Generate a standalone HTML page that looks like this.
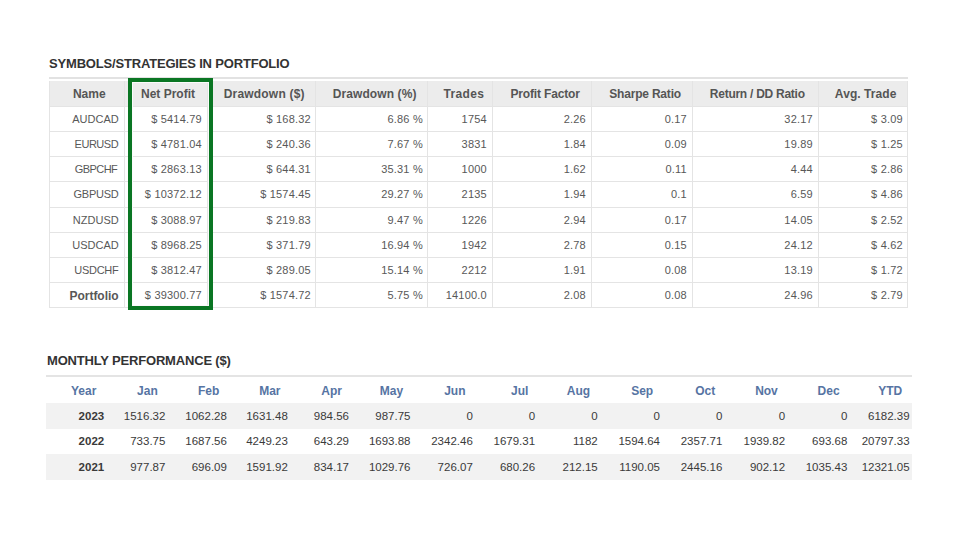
<!DOCTYPE html>
<html><head><meta charset="utf-8"><style>
html,body{margin:0;padding:0;background:#fff;}
body{width:960px;height:540px;position:relative;overflow:hidden;font-family:"Liberation Sans",sans-serif;}
.a{position:absolute;}
.t{position:absolute;white-space:nowrap;line-height:1;}
.h1{font-weight:bold;color:#333;font-size:13px;letter-spacing:-0.18px;}
.th{font-weight:bold;color:#555;font-size:12px;}
.td{color:#585858;font-size:11px;}
.bh{font-weight:bold;color:#5674a3;font-size:12px;}
.bd{color:#3a3a3a;font-size:11.5px;}
</style></head><body>

<div class="t h1" style="left:49px;top:57px;">SYMBOLS/STRATEGIES IN PORTFOLIO</div>
<div class="t h1" style="left:47px;top:354px;">MONTHLY PERFORMANCE ($)</div>
<div class="a" style="left:49px;top:77px;width:859px;height:2px;background:#e2e2e2"></div>
<div class="a" style="left:49px;top:81px;width:858px;height:25px;background:#ececec"></div>
<div class="a" style="left:49px;top:106.00px;width:859px;height:1px;background:#e4e4e4"></div>
<div class="a" style="left:49px;top:131.12px;width:859px;height:1px;background:#e4e4e4"></div>
<div class="a" style="left:49px;top:156.25px;width:859px;height:1px;background:#e4e4e4"></div>
<div class="a" style="left:49px;top:181.38px;width:859px;height:1px;background:#e4e4e4"></div>
<div class="a" style="left:49px;top:206.50px;width:859px;height:1px;background:#e4e4e4"></div>
<div class="a" style="left:49px;top:231.62px;width:859px;height:1px;background:#e4e4e4"></div>
<div class="a" style="left:49px;top:256.75px;width:859px;height:1px;background:#e4e4e4"></div>
<div class="a" style="left:49px;top:281.88px;width:859px;height:1px;background:#e4e4e4"></div>
<div class="a" style="left:49px;top:307.00px;width:859px;height:1px;background:#e4e4e4"></div>
<div class="a" style="left:49px;top:81px;width:1px;height:227.00px;background:#e4e4e4"></div>
<div class="a" style="left:124px;top:81px;width:1px;height:227.00px;background:#e4e4e4"></div>
<div class="a" style="left:207px;top:81px;width:1px;height:227.00px;background:#e4e4e4"></div>
<div class="a" style="left:315px;top:81px;width:1px;height:227.00px;background:#e4e4e4"></div>
<div class="a" style="left:427px;top:81px;width:1px;height:227.00px;background:#e4e4e4"></div>
<div class="a" style="left:492px;top:81px;width:1px;height:227.00px;background:#e4e4e4"></div>
<div class="a" style="left:591px;top:81px;width:1px;height:227.00px;background:#e4e4e4"></div>
<div class="a" style="left:692px;top:81px;width:1px;height:227.00px;background:#e4e4e4"></div>
<div class="a" style="left:818px;top:81px;width:1px;height:227.00px;background:#e4e4e4"></div>
<div class="a" style="left:907px;top:81px;width:1px;height:227.00px;background:#e4e4e4"></div>
<div class="t th" style="left:29.3px;width:120px;text-align:center;top:88px;letter-spacing:0px">Name</div>
<div class="t th" style="left:108.0px;width:120px;text-align:center;top:88px;letter-spacing:0px">Net Profit</div>
<div class="t th" style="left:204.2px;width:120px;text-align:center;top:88px;letter-spacing:0.2px">Drawdown ($)</div>
<div class="t th" style="left:314.6px;width:120px;text-align:center;top:88px;letter-spacing:0.1px">Drawdown (%)</div>
<div class="t th" style="left:403.8px;width:120px;text-align:center;top:88px;letter-spacing:0.35px">Trades</div>
<div class="t th" style="left:485.1px;width:120px;text-align:center;top:88px;letter-spacing:-0.16px">Profit Factor</div>
<div class="t th" style="left:585.1px;width:120px;text-align:center;top:88px;letter-spacing:-0.2px">Sharpe Ratio</div>
<div class="t th" style="left:697.3px;width:120px;text-align:center;top:88px;letter-spacing:-0.26px">Return / DD Ratio</div>
<div class="t th" style="left:805.7px;width:120px;text-align:center;top:88px;letter-spacing:0.08px">Avg. Trade</div>
<div class="t td" style="left:-31.30px;width:150px;text-align:right;top:114.0px;">AUDCAD</div>
<div class="t td" style="left:51.90px;width:150px;text-align:right;top:114.0px;letter-spacing:0.2px;">$ 5414.79</div>
<div class="t td" style="left:160.90px;width:150px;text-align:right;top:114.0px;letter-spacing:0.2px;">$ 168.32</div>
<div class="t td" style="left:272.90px;width:150px;text-align:right;top:114.0px;letter-spacing:0.2px;">6.86 %</div>
<div class="t td" style="left:336.90px;width:150px;text-align:right;top:114.0px;letter-spacing:0.2px;">1754</div>
<div class="t td" style="left:435.90px;width:150px;text-align:right;top:114.0px;letter-spacing:0.2px;">2.26</div>
<div class="t td" style="left:536.90px;width:150px;text-align:right;top:114.0px;letter-spacing:0.2px;">0.17</div>
<div class="t td" style="left:662.90px;width:150px;text-align:right;top:114.0px;letter-spacing:0.2px;">32.17</div>
<div class="t td" style="left:752.90px;width:150px;text-align:right;top:114.0px;letter-spacing:0.2px;">$ 3.09</div>
<div class="t td" style="left:-31.75px;width:150px;text-align:right;top:139.1px;letter-spacing:-0.45px;">EURUSD</div>
<div class="t td" style="left:51.90px;width:150px;text-align:right;top:139.1px;letter-spacing:0.2px;">$ 4781.04</div>
<div class="t td" style="left:160.90px;width:150px;text-align:right;top:139.1px;letter-spacing:0.2px;">$ 240.36</div>
<div class="t td" style="left:272.90px;width:150px;text-align:right;top:139.1px;letter-spacing:0.2px;">7.67 %</div>
<div class="t td" style="left:336.90px;width:150px;text-align:right;top:139.1px;letter-spacing:0.2px;">3831</div>
<div class="t td" style="left:435.90px;width:150px;text-align:right;top:139.1px;letter-spacing:0.2px;">1.84</div>
<div class="t td" style="left:536.90px;width:150px;text-align:right;top:139.1px;letter-spacing:0.2px;">0.09</div>
<div class="t td" style="left:662.90px;width:150px;text-align:right;top:139.1px;letter-spacing:0.2px;">19.89</div>
<div class="t td" style="left:752.90px;width:150px;text-align:right;top:139.1px;letter-spacing:0.2px;">$ 1.25</div>
<div class="t td" style="left:-32.90px;width:150px;text-align:right;top:164.2px;letter-spacing:-0.6px;">GBPCHF</div>
<div class="t td" style="left:51.90px;width:150px;text-align:right;top:164.2px;letter-spacing:0.2px;">$ 2863.13</div>
<div class="t td" style="left:160.90px;width:150px;text-align:right;top:164.2px;letter-spacing:0.2px;">$ 644.31</div>
<div class="t td" style="left:272.90px;width:150px;text-align:right;top:164.2px;letter-spacing:0.2px;">35.31 %</div>
<div class="t td" style="left:336.90px;width:150px;text-align:right;top:164.2px;letter-spacing:0.2px;">1000</div>
<div class="t td" style="left:435.90px;width:150px;text-align:right;top:164.2px;letter-spacing:0.2px;">1.62</div>
<div class="t td" style="left:536.90px;width:150px;text-align:right;top:164.2px;letter-spacing:0.2px;">0.11</div>
<div class="t td" style="left:662.90px;width:150px;text-align:right;top:164.2px;letter-spacing:0.2px;">4.44</div>
<div class="t td" style="left:752.90px;width:150px;text-align:right;top:164.2px;letter-spacing:0.2px;">$ 2.86</div>
<div class="t td" style="left:-31.55px;width:150px;text-align:right;top:189.4px;letter-spacing:-0.25px;">GBPUSD</div>
<div class="t td" style="left:51.90px;width:150px;text-align:right;top:189.4px;letter-spacing:0.2px;">$ 10372.12</div>
<div class="t td" style="left:160.90px;width:150px;text-align:right;top:189.4px;letter-spacing:0.2px;">$ 1574.45</div>
<div class="t td" style="left:272.90px;width:150px;text-align:right;top:189.4px;letter-spacing:0.2px;">29.27 %</div>
<div class="t td" style="left:336.90px;width:150px;text-align:right;top:189.4px;letter-spacing:0.2px;">2135</div>
<div class="t td" style="left:435.90px;width:150px;text-align:right;top:189.4px;letter-spacing:0.2px;">1.94</div>
<div class="t td" style="left:536.90px;width:150px;text-align:right;top:189.4px;letter-spacing:0.2px;">0.1</div>
<div class="t td" style="left:662.90px;width:150px;text-align:right;top:189.4px;letter-spacing:0.2px;">6.59</div>
<div class="t td" style="left:752.90px;width:150px;text-align:right;top:189.4px;letter-spacing:0.2px;">$ 4.86</div>
<div class="t td" style="left:-31.30px;width:150px;text-align:right;top:214.5px;">NZDUSD</div>
<div class="t td" style="left:51.90px;width:150px;text-align:right;top:214.5px;letter-spacing:0.2px;">$ 3088.97</div>
<div class="t td" style="left:160.90px;width:150px;text-align:right;top:214.5px;letter-spacing:0.2px;">$ 219.83</div>
<div class="t td" style="left:272.90px;width:150px;text-align:right;top:214.5px;letter-spacing:0.2px;">9.47 %</div>
<div class="t td" style="left:336.90px;width:150px;text-align:right;top:214.5px;letter-spacing:0.2px;">1226</div>
<div class="t td" style="left:435.90px;width:150px;text-align:right;top:214.5px;letter-spacing:0.2px;">2.94</div>
<div class="t td" style="left:536.90px;width:150px;text-align:right;top:214.5px;letter-spacing:0.2px;">0.17</div>
<div class="t td" style="left:662.90px;width:150px;text-align:right;top:214.5px;letter-spacing:0.2px;">14.05</div>
<div class="t td" style="left:752.90px;width:150px;text-align:right;top:214.5px;letter-spacing:0.2px;">$ 2.52</div>
<div class="t td" style="left:-31.30px;width:150px;text-align:right;top:239.6px;">USDCAD</div>
<div class="t td" style="left:51.90px;width:150px;text-align:right;top:239.6px;letter-spacing:0.2px;">$ 8968.25</div>
<div class="t td" style="left:160.90px;width:150px;text-align:right;top:239.6px;letter-spacing:0.2px;">$ 371.79</div>
<div class="t td" style="left:272.90px;width:150px;text-align:right;top:239.6px;letter-spacing:0.2px;">16.94 %</div>
<div class="t td" style="left:336.90px;width:150px;text-align:right;top:239.6px;letter-spacing:0.2px;">1942</div>
<div class="t td" style="left:435.90px;width:150px;text-align:right;top:239.6px;letter-spacing:0.2px;">2.78</div>
<div class="t td" style="left:536.90px;width:150px;text-align:right;top:239.6px;letter-spacing:0.2px;">0.15</div>
<div class="t td" style="left:662.90px;width:150px;text-align:right;top:239.6px;letter-spacing:0.2px;">24.12</div>
<div class="t td" style="left:752.90px;width:150px;text-align:right;top:239.6px;letter-spacing:0.2px;">$ 4.62</div>
<div class="t td" style="left:-31.60px;width:150px;text-align:right;top:264.8px;letter-spacing:-0.3px;">USDCHF</div>
<div class="t td" style="left:51.90px;width:150px;text-align:right;top:264.8px;letter-spacing:0.2px;">$ 3812.47</div>
<div class="t td" style="left:160.90px;width:150px;text-align:right;top:264.8px;letter-spacing:0.2px;">$ 289.05</div>
<div class="t td" style="left:272.90px;width:150px;text-align:right;top:264.8px;letter-spacing:0.2px;">15.14 %</div>
<div class="t td" style="left:336.90px;width:150px;text-align:right;top:264.8px;letter-spacing:0.2px;">2212</div>
<div class="t td" style="left:435.90px;width:150px;text-align:right;top:264.8px;letter-spacing:0.2px;">1.91</div>
<div class="t td" style="left:536.90px;width:150px;text-align:right;top:264.8px;letter-spacing:0.2px;">0.08</div>
<div class="t td" style="left:662.90px;width:150px;text-align:right;top:264.8px;letter-spacing:0.2px;">13.19</div>
<div class="t td" style="left:752.90px;width:150px;text-align:right;top:264.8px;letter-spacing:0.2px;">$ 1.72</div>
<div class="t td" style="left:-31.30px;width:150px;text-align:right;top:289.9px;font-weight:bold;font-size:12px;">Portfolio</div>
<div class="t td" style="left:51.90px;width:150px;text-align:right;top:289.9px;letter-spacing:0.2px;">$ 39300.77</div>
<div class="t td" style="left:160.90px;width:150px;text-align:right;top:289.9px;letter-spacing:0.2px;">$ 1574.72</div>
<div class="t td" style="left:272.90px;width:150px;text-align:right;top:289.9px;letter-spacing:0.2px;">5.75 %</div>
<div class="t td" style="left:336.90px;width:150px;text-align:right;top:289.9px;letter-spacing:0.2px;">14100.0</div>
<div class="t td" style="left:435.90px;width:150px;text-align:right;top:289.9px;letter-spacing:0.2px;">2.08</div>
<div class="t td" style="left:536.90px;width:150px;text-align:right;top:289.9px;letter-spacing:0.2px;">0.08</div>
<div class="t td" style="left:662.90px;width:150px;text-align:right;top:289.9px;letter-spacing:0.2px;">24.96</div>
<div class="t td" style="left:752.90px;width:150px;text-align:right;top:289.9px;letter-spacing:0.2px;">$ 2.79</div>
<div class="a" style="left:128px;top:78px;width:77px;height:224px;border:4px solid #0a7623;box-shadow:inset 0 0 0 1px #fbfbfb;"></div>
<div class="a" style="left:46px;top:375px;width:866px;height:2px;background:#e4e4e4"></div>
<div class="a" style="left:46px;top:403px;width:866px;height:26px;background:#f2f2f2"></div>
<div class="a" style="left:46px;top:453.5px;width:866px;height:26.5px;background:#f2f2f2"></div>
<div class="t bh" style="left:-3.7px;width:100px;text-align:right;top:385px;">Year</div>
<div class="t bh" style="left:57.8px;width:100px;text-align:right;top:385px;">Jan</div>
<div class="t bh" style="left:119.3px;width:100px;text-align:right;top:385px;">Feb</div>
<div class="t bh" style="left:180.5px;width:100px;text-align:right;top:385px;">Mar</div>
<div class="t bh" style="left:242.0px;width:100px;text-align:right;top:385px;">Apr</div>
<div class="t bh" style="left:303.2px;width:100px;text-align:right;top:385px;">May</div>
<div class="t bh" style="left:365.5px;width:100px;text-align:right;top:385px;">Jun</div>
<div class="t bh" style="left:428.4px;width:100px;text-align:right;top:385px;">Jul</div>
<div class="t bh" style="left:490.1px;width:100px;text-align:right;top:385px;">Aug</div>
<div class="t bh" style="left:553.2px;width:100px;text-align:right;top:385px;">Sep</div>
<div class="t bh" style="left:615.2px;width:100px;text-align:right;top:385px;">Oct</div>
<div class="t bh" style="left:677.8px;width:100px;text-align:right;top:385px;">Nov</div>
<div class="t bh" style="left:739.6px;width:100px;text-align:right;top:385px;">Dec</div>
<div class="t bh" style="left:802.2px;width:100px;text-align:right;top:385px;">YTD</div>
<div class="t bd" style="left:4.2px;width:100px;text-align:right;top:410.5px;font-weight:bold;">2023</div>
<div class="t bd" style="left:65.4px;width:100px;text-align:right;top:410.5px;">1516.32</div>
<div class="t bd" style="left:126.9px;width:100px;text-align:right;top:410.5px;">1062.28</div>
<div class="t bd" style="left:187.8px;width:100px;text-align:right;top:410.5px;">1631.48</div>
<div class="t bd" style="left:249.0px;width:100px;text-align:right;top:410.5px;">984.56</div>
<div class="t bd" style="left:310.5px;width:100px;text-align:right;top:410.5px;">987.75</div>
<div class="t bd" style="left:372.8px;width:100px;text-align:right;top:410.5px;">0</div>
<div class="t bd" style="left:435.1px;width:100px;text-align:right;top:410.5px;">0</div>
<div class="t bd" style="left:497.7px;width:100px;text-align:right;top:410.5px;">0</div>
<div class="t bd" style="left:560.0px;width:100px;text-align:right;top:410.5px;">0</div>
<div class="t bd" style="left:622.3px;width:100px;text-align:right;top:410.5px;">0</div>
<div class="t bd" style="left:685.1px;width:100px;text-align:right;top:410.5px;">0</div>
<div class="t bd" style="left:747.3px;width:100px;text-align:right;top:410.5px;">0</div>
<div class="t bd" style="left:809.6px;width:100px;text-align:right;top:410.5px;">6182.39</div>
<div class="t bd" style="left:4.2px;width:100px;text-align:right;top:436.0px;font-weight:bold;">2022</div>
<div class="t bd" style="left:65.4px;width:100px;text-align:right;top:436.0px;">733.75</div>
<div class="t bd" style="left:126.9px;width:100px;text-align:right;top:436.0px;">1687.56</div>
<div class="t bd" style="left:187.8px;width:100px;text-align:right;top:436.0px;">4249.23</div>
<div class="t bd" style="left:249.0px;width:100px;text-align:right;top:436.0px;">643.29</div>
<div class="t bd" style="left:310.5px;width:100px;text-align:right;top:436.0px;">1693.88</div>
<div class="t bd" style="left:372.8px;width:100px;text-align:right;top:436.0px;">2342.46</div>
<div class="t bd" style="left:435.1px;width:100px;text-align:right;top:436.0px;">1679.31</div>
<div class="t bd" style="left:497.7px;width:100px;text-align:right;top:436.0px;">1182</div>
<div class="t bd" style="left:560.0px;width:100px;text-align:right;top:436.0px;">1594.64</div>
<div class="t bd" style="left:622.3px;width:100px;text-align:right;top:436.0px;">2357.71</div>
<div class="t bd" style="left:685.1px;width:100px;text-align:right;top:436.0px;">1939.82</div>
<div class="t bd" style="left:747.3px;width:100px;text-align:right;top:436.0px;">693.68</div>
<div class="t bd" style="left:809.6px;width:100px;text-align:right;top:436.0px;">20797.33</div>
<div class="t bd" style="left:4.2px;width:100px;text-align:right;top:461.5px;font-weight:bold;">2021</div>
<div class="t bd" style="left:65.4px;width:100px;text-align:right;top:461.5px;">977.87</div>
<div class="t bd" style="left:126.9px;width:100px;text-align:right;top:461.5px;">696.09</div>
<div class="t bd" style="left:187.8px;width:100px;text-align:right;top:461.5px;">1591.92</div>
<div class="t bd" style="left:249.0px;width:100px;text-align:right;top:461.5px;">834.17</div>
<div class="t bd" style="left:310.5px;width:100px;text-align:right;top:461.5px;">1029.76</div>
<div class="t bd" style="left:372.8px;width:100px;text-align:right;top:461.5px;">726.07</div>
<div class="t bd" style="left:435.1px;width:100px;text-align:right;top:461.5px;">680.26</div>
<div class="t bd" style="left:497.7px;width:100px;text-align:right;top:461.5px;">212.15</div>
<div class="t bd" style="left:560.0px;width:100px;text-align:right;top:461.5px;">1190.05</div>
<div class="t bd" style="left:622.3px;width:100px;text-align:right;top:461.5px;">2445.16</div>
<div class="t bd" style="left:685.1px;width:100px;text-align:right;top:461.5px;">902.12</div>
<div class="t bd" style="left:747.3px;width:100px;text-align:right;top:461.5px;">1035.43</div>
<div class="t bd" style="left:809.6px;width:100px;text-align:right;top:461.5px;">12321.05</div>
</body></html>
